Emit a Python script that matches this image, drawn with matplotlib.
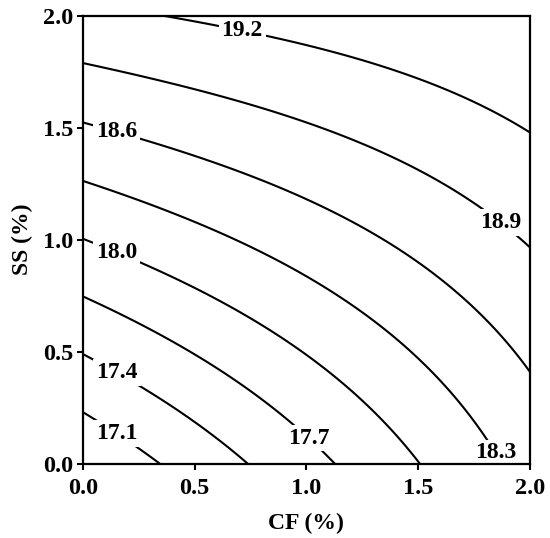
import numpy as np
import matplotlib
matplotlib.use("Agg")
import matplotlib.pyplot as plt

# Contour crossing points: (CF %, SS %, level)
pts_cf = [0, 0.337,
          0, 0.734, 0.302, 0.5,
          0, 1.121, 0.302, 0.5, 0.749,
          0, 1.505, 0.302, 0.5, 0.749, 1.0,
          0, 0.302, 0.5, 0.749, 1.0, 1.5, 1.813,
          0, 0.302, 0.5, 0.749, 1.0, 1.5, 2.0,
          0, 0.72, 1.0, 1.5, 2.0,
          0.36, 1.331, 1.5, 1.688, 2.0]
pts_ss = [0.235, 0,
          0.49, 0, 0.315, 0.195,
          0.744, 0, 0.597, 0.494, 0.344,
          1.0, 0, 0.879, 0.784, 0.634, 0.494,
          1.266, 1.155, 1.080, 0.954, 0.851, 0.44, 0.119,
          1.53, 1.437, 1.378, 1.275, 1.199, 0.917, 0.41,
          1.787, 1.60, 1.542, 1.296, 0.954,
          2.0, 1.772, 1.72, 1.638, 1.49]
pts_z = [17.1] * 2 + [17.4] * 4 + [17.7] * 5 + [18.0] * 6 + [18.3] * 7 + \
        [18.6] * 7 + [18.9] * 5 + [19.2] * 5

levels = [17.1, 17.4, 17.7, 18.0, 18.3, 18.6, 18.9, 19.2]
label_pos_cf = [0.15, 0.15, 1.0, 0.15, 1.86, 0.15, 1.85, 0.71]
label_pos_ss = [0.134, 0.40, 0.103, 0.94, 0.057, 1.475, 1.05, 1.92]
xticks = [0.0, 0.5, 1.0, 1.5, 2.0]
yticks = [0.0, 0.5, 1.0, 1.5, 2.0]

# Fit a cubic response surface to the read points
px = np.array(pts_cf); py = np.array(pts_ss); pz = np.array(pts_z)
terms = [(i, j) for i in range(4) for j in range(4) if i + j <= 3]
A = np.column_stack([px**i * py**j for i, j in terms])
coef, *_ = np.linalg.lstsq(A, pz, rcond=None)

gx = np.linspace(0, 2, 201)
gy = np.linspace(0, 2, 201)
X, Y = np.meshgrid(gx, gy)
Z = sum(c * X**i * Y**j for c, (i, j) in zip(coef, terms))

plt.rcParams['font.family'] = ['Liberation Serif', 'DejaVu Serif']
plt.rcParams['font.weight'] = 'bold'

fig = plt.figure(figsize=(5.5, 5.38), dpi=100)
ax = fig.add_axes([0.1504, 0.1381, 0.8132, 0.8327])
cs = ax.contour(X, Y, Z, levels=levels, colors='black', linewidths=1.5)
txts = ax.clabel(cs, inline=False, fontsize=17, fmt='%.1f',
                 manual=list(zip(label_pos_cf, label_pos_ss)))
for t in txts:
    t.set_rotation(0)
    t.set_fontweight('bold')
    t.set_bbox(dict(facecolor='white', edgecolor='none', pad=2))
    t.set_zorder(3)

ax.set_xlim(0, 2)
ax.set_ylim(0, 2)
ax.set_xticks(xticks)
ax.set_yticks(yticks)
ax.set_xticklabels([f"{v:.1f}" for v in xticks], fontsize=17.5, fontweight='bold')
ax.set_yticklabels([f"{v:.1f}" for v in yticks], fontsize=17.5, fontweight='bold')
ax.tick_params(direction='out', length=4, width=1.5)
ax.tick_params(axis='x', pad=6)
ax.tick_params(axis='y', pad=3)
for s in ax.spines.values():
    s.set_linewidth(1.6)
    s.set_zorder(4)
ax.set_xlabel('CF (%)', fontsize=17, fontweight='bold', labelpad=10)
ax.set_ylabel('SS (%)', fontsize=17, fontweight='bold', labelpad=7)

fig.savefig('out.png', dpi=100)
